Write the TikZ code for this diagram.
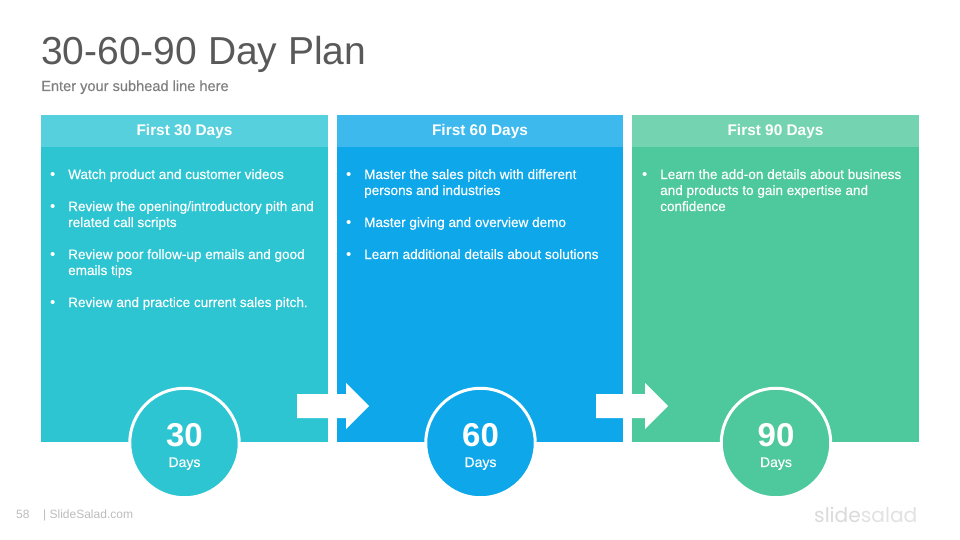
\documentclass[tikz,border=0pt]{standalone}
\usepackage{fontspec}
\setmainfont{Liberation Sans}
\newfontfamily\logofont{Poppins}
\definecolor{tealA}{HTML}{2EC5D3}
\definecolor{tealH}{HTML}{56D0DD}
\definecolor{blueA}{HTML}{0EA8EA}
\definecolor{blueH}{HTML}{3DB9EE}
\definecolor{greenA}{HTML}{4EC89D}
\definecolor{greenH}{HTML}{74D4B1}
\definecolor{titlec}{HTML}{595959}
\definecolor{subc}{HTML}{7F7F7F}
\definecolor{footc}{HTML}{BDBDBD}
\definecolor{logoc}{HTML}{DADADA}
\definecolor{logod}{HTML}{E2E2E2}
\newcommand{\bodyblock}[1]{\parbox[t]{262pt}{\raggedright #1}}
\tikzset{
 x=1pt,y=-1pt,
 bodytxt/.style={anchor=base west,inner sep=0pt,text=white,font=\fontsize{13.55}{16}\selectfont\addfontfeature{FakeBold=0.25}},
 bull/.style={anchor=base west,inner sep=0pt,text=white,font=\fontsize{15}{16}\selectfont},
 headtxt/.style={anchor=base,inner sep=0pt,text=white,font=\fontsize{15.4}{18}\selectfont\bfseries},
 bignum/.style={anchor=base,inner sep=0pt,text=white,font=\fontsize{33}{34}\selectfont\bfseries},
 daystxt/.style={anchor=base,inner sep=0pt,text=white,font=\fontsize{14}{16}\selectfont\addfontfeature{FakeBold=0.25}},
 disc/.style={circle,minimum size=109.5pt,inner sep=0pt,line width=3pt,draw=white},
}
\begin{document}
\begin{tikzpicture}
\useasboundingbox (0,0) rectangle (960,540);
\fill[white] (0,0) rectangle (960,540);
% cards
\fill[tealA] (41,115) rectangle (328,442);
\fill[tealH] (41,115) rectangle (328,147);
\fill[blueA] (337,115) rectangle (623,442);
\fill[blueH] (337,115) rectangle (623,147);
\fill[greenA] (632,115) rectangle (919,442);
\fill[greenH] (632,115) rectangle (919,147);
% arrows
\fill[white] (297,394) -- (346,394) -- (346,383) -- (369,406) -- (346,429) -- (346,418) -- (297,418) -- cycle;
\fill[white] (596,394) -- (645,394) -- (645,383) -- (668,406) -- (645,429) -- (645,418) -- (596,418) -- cycle;
% title
\node[anchor=base west,inner sep=0pt,text=titlec,font=\fontsize{39}{44}\selectfont] (title) at (41,65) {30-60-90 Day Plan};
\node[anchor=base west,inner sep=0pt,text=subc,font=\fontsize{14.6}{16}\selectfont\addfontfeature{FakeBold=0.2}] (sub) at (41,91) {Enter your subhead line here};
% headers
\node[headtxt] (h1) at (184.5,135.5) {First 30 Days};
\node[headtxt] (h2) at (480,135.5) {First 60 Days};
\node[headtxt] (h3) at (775.5,135.5) {First 90 Days};
% column 1
\node[bull] (b11) at (50,179) {•};
\node[bodytxt] (t11) at (68,179) {Watch product and customer videos};
\node[bull] (b12) at (50,211) {•};
\node[bodytxt] (t12) at (68,211) {\bodyblock{Review the opening/introductory pith and\\related call scripts}};
\node[bull] (b13) at (50,259) {•};
\node[bodytxt] (t13) at (68,259) {\bodyblock{Review poor follow-up emails and good\\emails tips}};
\node[bull] (b14) at (50,307) {•};
\node[bodytxt] (t14) at (68,307) {Review and practice current sales pitch.};
% column 2
\node[bull] (b21) at (346,179) {•};
\node[bodytxt] (t21) at (364,179) {\bodyblock{Master the sales pitch with different\\persons and industries}};
\node[bull] (b22) at (346,227) {•};
\node[bodytxt] (t22) at (364,227) {Master giving and overview demo};
\node[bull] (b23) at (346,259) {•};
\node[bodytxt] (t23) at (364,259) {Learn additional details about solutions};
% column 3
\node[bull] (b31) at (642,179) {•};
\node[bodytxt] (t31) at (660,179) {\bodyblock{Learn the add-on details about business\\and products to gain expertise and\\confidence}};
% discs
\node[disc,fill=tealA] (c1) at (184.5,443) {};
\node[disc,fill=blueA] (c2) at (480.5,443) {};
\node[disc,fill=greenA] (c3) at (776,443) {};
\node[bignum] (n1) at (184.5,446) {30};
\node[daystxt] (d1) at (184.5,467) {Days};
\node[bignum] (n2) at (480.5,446) {60};
\node[daystxt] (d2) at (480.5,467) {Days};
\node[bignum] (n3) at (776,446) {90};
\node[daystxt] (d3) at (776,467) {Days};
% footer
\node[anchor=base west,inner sep=0pt,text=footc,font=\fontsize{12}{14}\selectfont] (pg) at (16,518) {58};
\node[anchor=base west,inner sep=0pt,text=footc,font=\fontsize{12}{14}\selectfont] (site) at (43,518) {| SlideSalad.com};
\node[anchor=base west,inner sep=0pt,font=\logofont\fontsize{20.2}{26}\selectfont] (logo) at (814,522) {\textcolor{logoc}{slide}\textcolor{logod}{salad}};
\end{tikzpicture}
\end{document}
